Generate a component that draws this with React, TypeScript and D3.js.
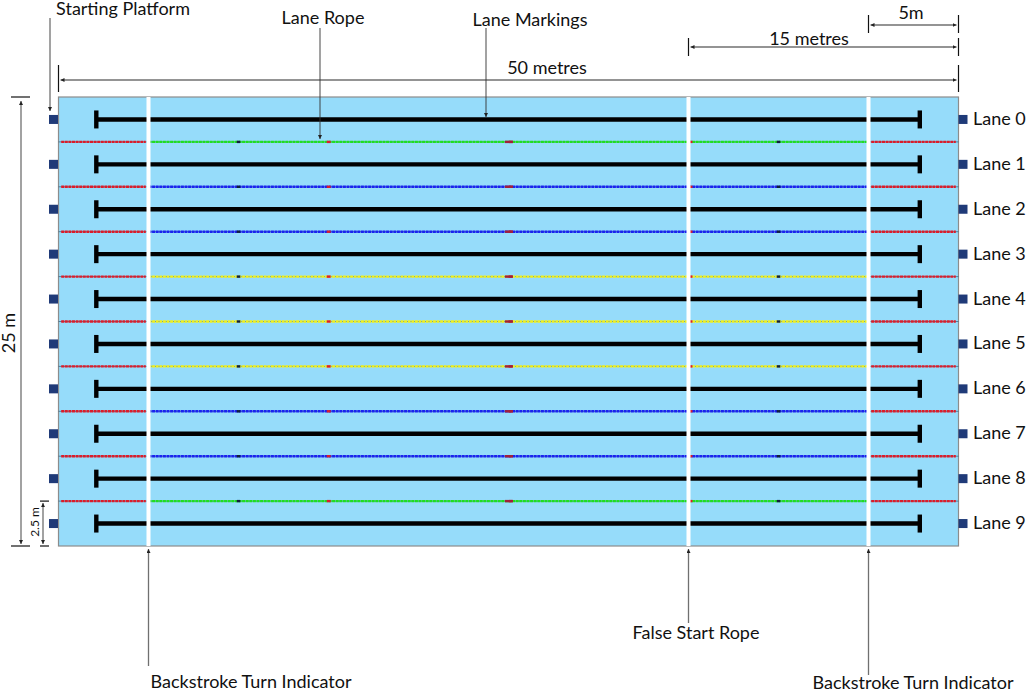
import * as React from 'react';
import * as d3 from 'd3';

// everything below is in metres, the pool is 50 x 25
const laneNames = ['Lane 0', 'Lane 1', 'Lane 2', 'Lane 3', 'Lane 4', 'Lane 5', 'Lane 6', 'Lane 7', 'Lane 8', 'Lane 9'];
const laneCentres = [1.25, 3.75, 6.25, 8.75, 11.25, 13.75, 16.25, 18.75, 21.25, 23.75];
const ropePositions = [2.5, 5, 7.5, 10, 12.5, 15, 17.5, 20, 22.5];
const ropeColours = ['#1fe01f', '#1a22f0', '#1a22f0', '#f2f01a', '#f2f01a', '#f2f01a', '#1a22f0', '#1a22f0', '#1fe01f'];
const ropeEndZones = [[0, 5], [45, 50]];
const ropeRedMarks = [14.9, 25, 35];
const ropeDarkMarks = [10, 40];
const whiteLines = [5, 35, 45];
const markingStart = 2.1;
const markingEnd = 47.85;

const W = 1032;
const H = 690;

const x = d3.scaleLinear().domain([0, 50]).range([58.5, 958.5]);
const y = d3.scaleLinear().domain([0, 25]).range([97, 546]);
const font = 'Lato, sans-serif';

export default function App() {
  const ref = React.useRef<SVGSVGElement>(null);

  React.useEffect(() => {
    const svg = d3.select(ref.current);
    svg.selectAll('*').remove();

    const defs = svg.append('defs');
    const marker = defs
      .append('marker')
      .attr('id', 'head')
      .attr('viewBox', '0 0 4 4')
      .attr('refX', 4)
      .attr('refY', 2)
      .attr('markerUnits', 'userSpaceOnUse')
      .attr('markerWidth', 4)
      .attr('markerHeight', 4)
      .attr('orient', 'auto-start-reverse');
    marker.append('path').attr('d', 'M0,0L4,2L0,4Z').attr('fill', '#222');

    // pool
    svg
      .append('rect')
      .attr('x', x(0))
      .attr('y', y(0))
      .attr('width', x(50) - x(0))
      .attr('height', y(25) - y(0))
      .attr('fill', '#96dcfa')
      .attr('stroke', '#8c8c8c')
      .attr('stroke-width', 1.2);

    // lane markings with T ends
    const lanes = svg.selectAll('g.lane').data(laneCentres).join('g').attr('class', 'lane');
    lanes
      .append('line')
      .attr('x1', x(markingStart))
      .attr('x2', x(markingEnd))
      .attr('y1', d => y(d))
      .attr('y2', d => y(d))
      .attr('stroke', '#000')
      .attr('stroke-width', 4.4);
    [markingStart, markingEnd].forEach(m => {
      lanes
        .append('line')
        .attr('x1', x(m))
        .attr('x2', x(m))
        .attr('y1', d => y(d) - 9)
        .attr('y2', d => y(d) + 9)
        .attr('stroke', '#000')
        .attr('stroke-width', 4.4);
    });
    // starting platforms
    [x(0) - 9.5, x(50)].forEach(px => {
      lanes
        .append('rect')
        .attr('x', px)
        .attr('y', d => y(d) - 4.5)
        .attr('width', 9)
        .attr('height', 9)
        .attr('fill', '#1f3a78');
    });
    lanes
      .append('text')
      .attr('x', 973)
      .attr('y', d => y(d) + 5.5)
      .attr('font-family', font)
      .attr('font-size', 18)
      .attr('fill', '#111')
      .text((d, i) => laneNames[i]);

    // lane ropes
    ropePositions.forEach((r, i) => {
      const g = svg.append('g');
      const seg = (a: number, b: number, colour: string, dash: string | null, w = 2.4) =>
        g
          .append('line')
          .attr('x1', x(a))
          .attr('x2', x(b))
          .attr('y1', y(r))
          .attr('y2', y(r))
          .attr('stroke', colour)
          .attr('stroke-width', w)
          .attr('stroke-dasharray', dash);
      seg(0, 50, '#3d6a88', null, 0.8);
      ropeEndZones.forEach(z => seg(z[0] + 0.15, z[1] - 0.15, '#dc1c2a', '3 0.6'));
      seg(5, 45, ropeColours[i], '3 0.6');
      ropeRedMarks.forEach(m => seg(m, m + 0.22, '#dc1c2a', null));
      ropeDarkMarks.forEach(m => seg(m - 0.1, m + 0.1, '#10203a', null));
      seg(25 - 0.2, 25 + 0.25, '#a0203a', null);
    });

    // white lines sit over the markings
    svg
      .selectAll('line.white')
      .data(whiteLines)
      .join('line')
      .attr('class', 'white')
      .attr('x1', d => x(d))
      .attr('x2', d => x(d))
      .attr('y1', y(0))
      .attr('y2', y(25))
      .attr('stroke', '#fff')
      .attr('stroke-width', 4);

    // annotation helpers, all in pixels of the page furniture around the pool
    const anno = svg.append('g');
    const arrow = (x1: number, y1: number, x2: number, y2: number, both = false) =>
      anno
        .append('line')
        .attr('x1', x1)
        .attr('y1', y1)
        .attr('x2', x2)
        .attr('y2', y2)
        .attr('stroke', '#333')
        .attr('stroke-opacity', 0.7)
        .attr('stroke-width', 1.3)
        .attr('marker-end', 'url(#head)')
        .attr('marker-start', both ? 'url(#head)' : null);
    const tick = (x1: number, y1: number, x2: number, y2: number) =>
      anno
        .append('line')
        .attr('x1', x1)
        .attr('y1', y1)
        .attr('x2', x2)
        .attr('y2', y2)
        .attr('stroke', '#111')
        .attr('stroke-width', 1.2);
    const label = (s: string, px: number, py: number, size = 18, rotate = false) =>
      anno
        .append('text')
        .attr('transform', `translate(${px},${py})${rotate ? ' rotate(-90)' : ''}`)
        .attr('text-anchor', 'middle')
        .attr('font-family', font)
        .attr('font-size', size)
        .attr('fill', '#111')
        .text(s);

    // horizontal dimensions
    tick(x(0), 65, x(0), 92);
    tick(x(50), 65, x(50), 92);
    arrow(x(0) + 2, 80, x(50) - 2, 80, true);
    label('50 metres', 547, 74);

    tick(x(35), 38, x(35), 56);
    tick(x(50), 38, x(50), 56);
    arrow(x(35) + 2, 47, x(50) - 2, 47, true);
    label('15 metres', 809, 45);

    tick(x(45), 15, x(45), 33);
    tick(x(50), 15, x(50), 33);
    arrow(x(45) + 2, 25, x(50) - 2, 25, true);
    label('5m', 911, 19);

    // vertical dimensions
    tick(11, y(0), 30, y(0));
    tick(11, y(25), 30, y(25));
    arrow(21, y(0) + 4, 21, y(25) - 2, true);
    label('25 m', 15, 333, 18, true);

    tick(40, y(22.5), 49, y(22.5));
    tick(40, y(25), 49, y(25));
    arrow(43, y(22.5) + 2, 43, y(25) - 2, true);
    label('2.5 m', 39, 522, 12, true);

    // callouts
    arrow(50, 18, 50, 111);
    label('Starting Platform', 123, 15);
    arrow(320, 28, 320, 139);
    label('Lane Rope', 323, 24);
    arrow(486, 28, 486, 117);
    label('Lane Markings', 530, 26);
    arrow(x(5), 666, x(5), 549);
    label('Backstroke Turn Indicator', 251, 688);
    arrow(x(35), 623, x(35), 549);
    label('False Start Rope', 696, 639);
    arrow(x(45), 675, x(45), 549);
    label('Backstroke Turn Indicator', 913, 689);
  }, []);

  return (
    <svg
      ref={ref}
      width={W}
      height={H}
      style={{ position: 'absolute', left: 0, top: 0, background: '#fff' }}
    />
  );
}
